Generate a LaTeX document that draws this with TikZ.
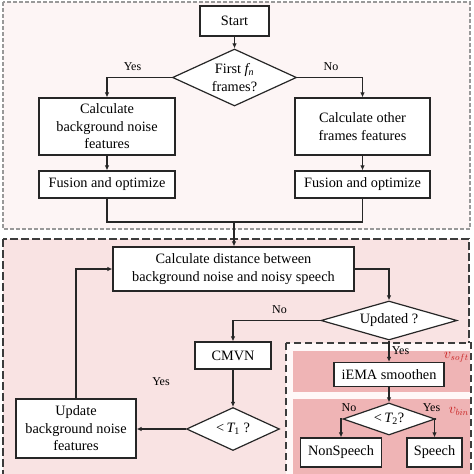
\documentclass[tikz,border=0pt]{standalone}
\usepackage{fontspec}
\setmainfont{Liberation Serif}
\usetikzlibrary{shapes.geometric,arrows.meta}
\definecolor{topfill}{HTML}{FDF5F5}
\definecolor{midfill}{HTML}{F9E3E3}
\definecolor{innerfill}{HTML}{FFF8F8}
\definecolor{bandfill}{HTML}{EFB4B5}
\definecolor{vred}{HTML}{C81E1E}
\definecolor{ink}{HTML}{262626}
\begin{document}
\begin{tikzpicture}[x=1pt,y=-1pt,
  font=\fontsize{14.3}{17.4}\selectfont,
  box/.style={draw=ink,line width=1.2pt,fill=white,align=center,inner sep=0pt},
  dia/.style={draw=ink,line width=1.2pt,fill=white,diamond,inner sep=0pt,align=center},
  arr/.style={-{Latex[length=5pt,width=4.5pt]},line width=1.2pt,draw=ink},
  ln/.style={line width=1.2pt,draw=ink},
  lab/.style={font=\fontsize{12}{14}\selectfont,inner sep=0pt},
  vlab/.style={text=vred,inner sep=0pt,font=\fontsize{13.5}{16}\selectfont},
  topregion/.style={fill=topfill,draw=gray!80,line width=1.1pt,dash pattern=on 4pt off 2pt},
  midregion/.style={fill=midfill,draw=ink!90,line width=1.3pt,dash pattern=on 8pt off 3pt},
  innerregion/.style={fill=innerfill,draw=ink!90,line width=1.3pt,dash pattern=on 7pt off 4pt},
  band/.style={fill=bandfill,draw=none}]
\useasboundingbox (0,0) rectangle (474,474);

% regions
\path[topregion] (3,2) rectangle (470,229);
\path[midregion] (3,239) rectangle (469,490);
\path[innerregion] (286,343) rectangle (471,490);
\path[band] (293,351) rectangle (470,392);
\path[band] (293,399) rectangle (470,490);

% nodes
\node[box,minimum width=69,minimum height=30] (start) at (234.5,21) {Start};
\node[dia,minimum width=124,minimum height=57,aspect=2.2] (d1) at (234.5,77.5) {First {\itshape f}\textsubscript{\itshape n}\\frames?};
\node[box,minimum width=136,minimum height=57] (lb) at (107,126.5) {Calculate\\background noise\\features};
\node[box,minimum width=135,minimum height=57] (rb) at (362.5,126.5) {Calculate other\\frames features};
\node[box,minimum width=136,minimum height=27] (fl) at (107,184.5) {Fusion and optimize};
\node[box,minimum width=135,minimum height=27] (fr) at (362.5,184.5) {Fusion and optimize};
\node[box,minimum width=241,minimum height=44] (dist) at (233.5,269) {Calculate distance between\\background noise and noisy speech};
\node[dia,minimum width=136,minimum height=39,aspect=3.5] (d2) at (389,320.5) {Updated ?};
\node[box,minimum width=76,minimum height=27] (cmvn) at (233,355.5) {CMVN};
\node[dia,minimum width=93,minimum height=43,aspect=2.2] (d3) at (233,429) {<\,{\itshape T}\textsubscript{1} ?};
\node[box,minimum width=120,minimum height=59] (upd) at (76,428.5) {Update\\background noise\\features};
\node[box,minimum width=110,minimum height=24] (iema) at (389,374.5) {iEMA smoothen};
\node[dia,minimum width=92,minimum height=32,aspect=2.9] (d4) at (389,419) {<\,{\itshape T}\textsubscript{2}?};
\node[box,minimum width=81,minimum height=29] (nons) at (341,452.5) {NonSpeech};
\node[box,minimum width=55,minimum height=29] (sp) at (434.5,452.5) {Speech};

% labels
\node[lab] (l1) at (132.5,67) {Yes};
\node[lab] (l2) at (331,67) {No};
\node[lab] (l3) at (279.5,310) {No};
\node[lab] (l4) at (400.5,351) {Yes};
\node[lab] (l5) at (161,382) {Yes};
\node[lab] (l6) at (349,408) {No};
\node[lab] (l7) at (431.5,408) {Yes};
\node[vlab,anchor=east] (v1) at (469,357) {$v_{soft}$};
\node[vlab,anchor=east] (v2) at (469,411) {$v_{bin}$};

% connectors
\coordinate (mrg) at (234,222);
\draw[arr] (start) -- (d1);
\draw[arr] (d1.west) -| (lb.north);
\draw[arr] (d1.east) -| (rb.north);
\draw[arr] (lb) -- (fl);
\draw[arr] (rb) -- (fr);
\draw[ln] (fl.south) |- (mrg) -| (fr.south);
\draw[arr] (mrg) -- (mrg |- dist.north);
\draw[arr] (dist.east) -| (d2.north);
\draw[arr] (d2.west) -| (cmvn.north);
\draw[arr] (cmvn) -- (d3);
\draw[arr] (d3.west) -- (d3.west -| upd.east);
\draw[arr] (upd.north) |- (dist.west);
\draw[arr] (d2.south) -- (iema.north);
\draw[arr] (iema) -- (d4);
\draw[arr] (d4.west) -| (nons.north);
\draw[arr] (d4.east) -| (sp.north);
\end{tikzpicture}
\end{document}
